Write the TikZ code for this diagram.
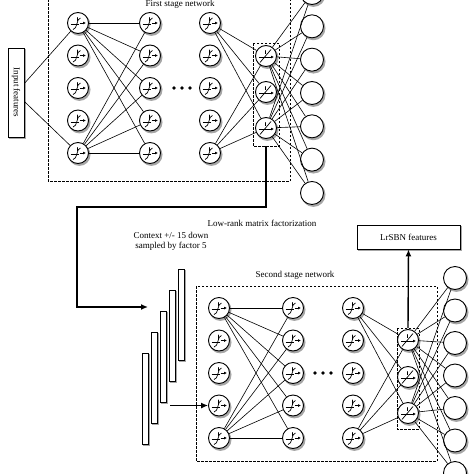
\documentclass[tikz,border=0pt]{standalone}
\usepackage{fontspec}
\setmainfont{Liberation Serif}
\usetikzlibrary{arrows.meta}
\newcommand\sigicon{%
  \begin{scope}[shift={(path picture bounding box.center)},line width=0.7pt]
    \draw (-7.5,1.5) -- (1,1.5);
    \draw (-5,6.5) .. controls (-0.5,6.5) and (-1.5,-5) .. (2.5,-5);
    \draw (-1,-6.5) -- (-1,-2);
    \fill (-1,-6.5) circle (1.2);
    \draw[-{Latex[length=3pt,width=3pt]}] (1.5,0) -- (8,0);
  \end{scope}}
\newcommand\linicon{%
  \begin{scope}[shift={(path picture bounding box.center)},line width=0.7pt]
    \draw (-6,6.5) -- (5,-6.5);
    \draw (-1,-6.5) -- (-1,-2);
    \fill (-1,-6.5) circle (1.2);
    \draw[-{Latex[length=3pt,width=3pt]}] (-7,1) -- (8,1);
  \end{scope}}
\tikzset{
  x=1pt,y=-1pt,
  every node/.style={font=\fontsize{9}{10.5}\selectfont},
  shad/.style={preaction={draw=black!35,line width=1.2pt,fill=black!35,transform canvas={xshift=1.4pt,yshift=-1.8pt}}},
  neuron/.style={circle,draw,fill=white,minimum size=21pt,inner sep=0pt,line width=0.9pt,shad,path picture={\sigicon}},
  linneuron/.style={circle,draw,fill=white,minimum size=21pt,inner sep=0pt,line width=0.9pt,shad,path picture={\linicon}},
  outn/.style={circle,draw,fill=white,minimum size=23pt,inner sep=0pt,line width=0.9pt,shad},
  edge/.style={line width=0.6pt},
  dbox/.style={draw,line width=0.6pt,dash pattern=on 2.5pt off 1.5pt},
  thick arrow/.style={line width=1.4pt},
  bar/.style={draw,fill=white,line width=0.7pt,minimum width=6pt,minimum height=91pt,inner sep=0pt,shad},
  plainbox/.style={draw,fill=white,line width=0.7pt,shad},
  dotc/.style={circle,fill=black,inner sep=0pt,minimum size=3.6pt},
}
\begin{document}
\begin{tikzpicture}
\useasboundingbox (0,0) rectangle (474,474);
\begin{scope}
\clip (0,0) rectangle (474,474);
% ---------- First stage ----------
\draw[dbox] (48,-5) rectangle (290,181);
\node (lab1) at (180,4) {First stage network};
\draw[dbox] (253,43) rectangle (279,146);
\node[plainbox,minimum width=16pt,minimum height=89pt,inner sep=0pt] (inp) at (16,92.5) {};
\node[rotate=-90] (inptxt) at (inp.center) {Input features};
\foreach \i/\y in {1/23,2/55.5,3/88,4/120.5,5/153}{
  \node[neuron] (a\i) at (78,\y) {};
  \node[neuron] (b\i) at (150,\y) {};
  \node[neuron] (c\i) at (210,\y) {};
}
\foreach \i/\x in {1/174,2/182,3/190}{
  \node[dotc] (dA\i) at (\x,88) {};
}
\foreach \i/\y in {1/56,2/92,3/128}{
  \node[linneuron] (d\i) at (266,\y) {};
}
\foreach \i in {0,...,6}{
  \node[outn] (o\i) at (312,{-7+33.33*\i}) {};
}
\draw[edge] ([yshift=9pt]inp.east) -- (a1);
\draw[edge] ([yshift=-9pt]inp.east) -- (a5);
\foreach \j in {1,...,5}{
  \draw[edge] (a1) -- (b\j);
  \draw[edge] (a5) -- (b\j);
}
\foreach \j in {1,2,3}{
  \draw[edge] (c1) -- (d\j);
  \draw[edge] (c5) -- (d\j);
}
\foreach \j in {0,...,6}{
  \draw[edge] (d1) -- (o\j);
  \draw[edge] (d3) -- (o\j);
}
% ---------- Link ----------
\coordinate (k1) at (266,146);
\coordinate (k2) at (266,207);
\coordinate (k3) at (77,207);
\coordinate (k4) at (77,307);
\coordinate (k5) at (148,307);
\draw[thick arrow,-{Latex[length=7pt,width=6pt]}] (k1) -- (k2) -- (k3) -- (k4) -- (k5);
\node (lrm) at (262,223) {Low-rank matrix factorization};
\node[align=center,inner sep=0pt] (ctx) at (171,241.5) {Context +/- 15 down\\[0pt]sampled by factor 5};
% bars
\foreach \k in {0,...,4}{
  \node[bar] (bar\k) at ({145+9*\k},{398.5-21*\k}) {};
}
% ---------- Second stage ----------
\draw[dbox] (196,286) rectangle (437,461);
\node (lab2) at (295,275) {Second stage network};
\draw[dbox] (397,328) rectangle (419,429);
\foreach \i/\y in {1/308,2/340.5,3/373,4/405.5,5/438}{
  \node[neuron] (e\i) at (219,\y) {};
  \node[neuron] (f\i) at (293,\y) {};
  \node[neuron] (g\i) at (353,\y) {};
}
\foreach \i/\x in {1/315,2/323,3/331}{
  \node[dotc] (dB\i) at (\x,373) {};
}
\foreach \i/\y in {1/340,2/377,3/413}{
  \node[linneuron] (h\i) at (408,\y) {};
}
\foreach \i in {0,...,6}{
  \node[outn] (p\i) at (455,{278+32.5*\i}) {};
}
\foreach \j in {1,...,5}{
  \draw[edge] (e1) -- (f\j);
  \draw[edge] (e5) -- (f\j);
}
\foreach \j in {1,2,3}{
  \draw[edge] (g1) -- (h\j);
  \draw[edge] (g5) -- (h\j);
}
\foreach \j in {0,...,6}{
  \draw[edge] (h1) -- (p\j);
  \draw[edge] (h3) -- (p\j);
}
\coordinate (barout) at (170,405.5);
\draw[thick arrow,line width=1.2pt,-{Latex[length=7pt,width=6pt]}] (barout) -- (e4);
% LrSBN
\node[plainbox,minimum width=103pt,minimum height=24pt] (lrs) at (408.5,237) {LrSBN features};
\coordinate (h1top) at (408,328);
\draw[thick arrow,-{Latex[length=7pt,width=6pt]}] (h1top) -- (lrs.south);
\end{scope}
\end{tikzpicture}
\end{document}
